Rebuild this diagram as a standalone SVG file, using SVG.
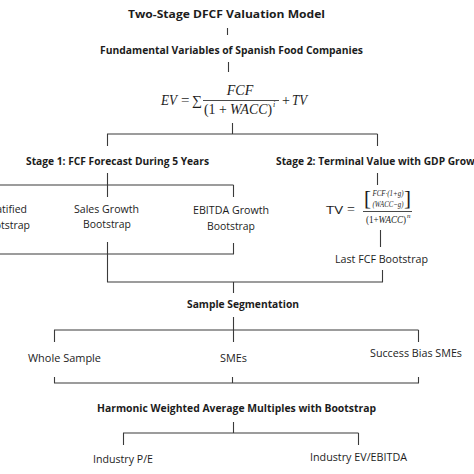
<svg xmlns="http://www.w3.org/2000/svg" width="474" height="474" viewBox="0 0 474 474">
<style>
.b{font-family:"Open Sans","Liberation Sans",sans-serif;font-weight:bold;font-size:10.5px;fill:#1c1c1c}
.r{font-family:"Open Sans","Liberation Sans",sans-serif;font-size:10.5px;fill:#1c1c1c}
.m{font-family:"Liberation Serif","DejaVu Serif",serif;font-style:italic;fill:#1c1c1c}
.u{font-family:"Liberation Serif","DejaVu Serif",serif;font-style:normal;fill:#1c1c1c}
.c line{stroke:#3a3a3a;stroke-width:1.1;fill:none}
</style>
<rect width="474" height="474" fill="#ffffff"/>
<g id="connectors" class="c">
<line x1="227.5" y1="28" x2="227.5" y2="35"/>
<line x1="228.5" y1="62" x2="228.5" y2="72"/>
<line x1="232.5" y1="123" x2="232.5" y2="134"/>
<line x1="107" y1="134" x2="377.5" y2="134"/>
<line x1="107.5" y1="134" x2="107.5" y2="146"/>
<line x1="377.5" y1="134" x2="377.5" y2="146"/>
<line x1="107.5" y1="173" x2="107.5" y2="197"/>
<line x1="-10" y1="185" x2="233.5" y2="185"/>
<line x1="233.5" y1="185" x2="233.5" y2="197"/>
<line x1="377.5" y1="173" x2="377.5" y2="185"/>
<line x1="107.5" y1="242" x2="107.5" y2="282"/>
<line x1="-10" y1="254" x2="234" y2="254"/>
<line x1="233.5" y1="243" x2="233.5" y2="254"/>
<line x1="380.5" y1="230" x2="380.5" y2="247"/>
<line x1="382.5" y1="270" x2="382.5" y2="282"/>
<line x1="107" y1="282" x2="383" y2="282"/>
<line x1="233.5" y1="282" x2="233.5" y2="293"/>
<line x1="233.5" y1="317" x2="233.5" y2="342"/>
<line x1="54" y1="330" x2="418.5" y2="330"/>
<line x1="54.5" y1="330" x2="54.5" y2="342"/>
<line x1="418.5" y1="330" x2="418.5" y2="342"/>
<line x1="54.5" y1="377" x2="54.5" y2="383"/>
<line x1="232.5" y1="377" x2="232.5" y2="383"/>
<line x1="418.5" y1="377" x2="418.5" y2="383"/>
<line x1="54" y1="383" x2="419" y2="383"/>
<line x1="233.5" y1="422" x2="233.5" y2="433"/>
<line x1="123" y1="433" x2="358.5" y2="433"/>
<line x1="123.5" y1="433" x2="123.5" y2="445"/>
<line x1="358.5" y1="433" x2="358.5" y2="445"/>
</g>
<g id="title"><text class="b" x="128" y="18" font-size="12.5" textLength="197" lengthAdjust="spacingAndGlyphs">Two-Stage DFCF Valuation Model</text></g>
<g id="fundamentals"><text class="b" x="100" y="54" textLength="263" lengthAdjust="spacingAndGlyphs">Fundamental Variables of Spanish Food Companies</text></g>
<g id="ev-formula">
<text class="m" x="161" y="105" font-size="15" textLength="16" lengthAdjust="spacingAndGlyphs">EV</text>
<text class="u" x="181" y="105" font-size="15">=</text>
<text class="u" x="192" y="105" font-size="14">∑</text>
<line x1="203" y1="100.5" x2="279" y2="100.5" stroke="#1c1c1c" stroke-width="0.8"/>
<text class="m" x="240" y="95" font-size="14" text-anchor="middle">FCF</text>
<text class="u" x="204" y="113.5" font-size="14" textLength="68" lengthAdjust="spacingAndGlyphs">(1 + <tspan font-style="italic">WACC</tspan>)</text>
<text class="m" x="273" y="107" font-size="8">i</text>
<text class="u" x="282" y="105" font-size="14">+</text>
<text class="m" x="292" y="105" font-size="15" textLength="15" lengthAdjust="spacingAndGlyphs">TV</text>
</g>
<g id="stage1"><text class="b" x="26" y="165" textLength="183" lengthAdjust="spacingAndGlyphs">Stage 1: FCF Forecast During 5 Years</text></g>
<g id="stage2"><text class="b" x="276" y="165" textLength="210" lengthAdjust="spacingAndGlyphs">Stage 2: Terminal Value with GDP Growth</text></g>
<g id="stratified">
<text class="r" x="27" y="213" text-anchor="end">Stratified</text>
<text class="r" x="30" y="229" text-anchor="end">Bootstrap</text>
</g>
<g id="sales-growth">
<text class="r" x="74" y="213" textLength="65" lengthAdjust="spacingAndGlyphs">Sales Growth</text>
<text class="r" x="83" y="228" textLength="48" lengthAdjust="spacingAndGlyphs">Bootstrap</text>
</g>
<g id="ebitda-growth">
<text class="r" x="193" y="214" textLength="76" lengthAdjust="spacingAndGlyphs">EBITDA Growth</text>
<text class="r" x="207" y="230" textLength="48" lengthAdjust="spacingAndGlyphs">Bootstrap</text>
</g>
<g id="tv-formula">
<text class="r" x="326" y="214" font-size="13" textLength="17" lengthAdjust="spacingAndGlyphs">TV</text>
<text class="u" x="347" y="214" font-size="14">=</text>
<line x1="363" y1="211.5" x2="412" y2="211.5" stroke="#1c1c1c" stroke-width="0.8"/>
<text class="u" x="364" y="205" font-size="21">[</text>
<text class="u" x="404" y="205" font-size="21">]</text>
<text class="m" x="388" y="196" font-size="9" text-anchor="middle" textLength="31" lengthAdjust="spacingAndGlyphs">FCF·(1+g)</text>
<text class="m" x="388" y="206.5" font-size="9" text-anchor="middle" textLength="31" lengthAdjust="spacingAndGlyphs">(WACC−g)</text>
<text class="u" x="366" y="223" font-size="11" textLength="40" lengthAdjust="spacingAndGlyphs">(1+<tspan font-style="italic">WACC</tspan>)</text>
<text class="m" x="407" y="218" font-size="7">n</text>
</g>
<g id="last-fcf"><text class="r" x="335" y="263" textLength="93" lengthAdjust="spacingAndGlyphs">Last FCF Bootstrap</text></g>
<g id="sample-segmentation"><text class="b" x="187" y="308" textLength="112" lengthAdjust="spacingAndGlyphs">Sample Segmentation</text></g>
<g id="whole-sample"><text class="r" x="28" y="362" textLength="73" lengthAdjust="spacingAndGlyphs">Whole Sample</text></g>
<g id="smes"><text class="r" x="220" y="362" textLength="27" lengthAdjust="spacingAndGlyphs">SMEs</text></g>
<g id="success-bias"><text class="r" x="370" y="357" textLength="92" lengthAdjust="spacingAndGlyphs">Success Bias SMEs</text></g>
<g id="harmonic"><text class="b" x="97" y="412" textLength="279" lengthAdjust="spacingAndGlyphs">Harmonic Weighted Average Multiples with Bootstrap</text></g>
<g id="industry-pe"><text class="r" x="93" y="463" textLength="60" lengthAdjust="spacingAndGlyphs">Industry P/E</text></g>
<g id="industry-ev"><text class="r" x="310" y="461" textLength="97" lengthAdjust="spacingAndGlyphs">Industry EV/EBITDA</text></g>
</svg>
